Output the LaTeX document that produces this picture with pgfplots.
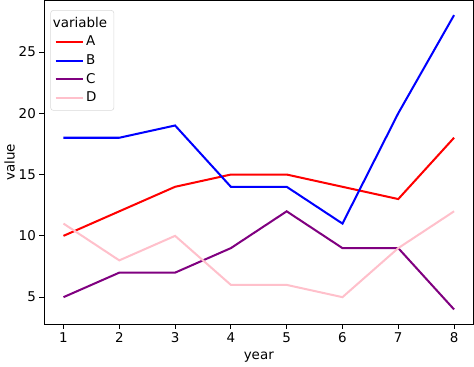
\documentclass[border=0pt]{standalone}
\usepackage{pgfplots}
\pgfplotsset{compat=1.18}
\usepackage{fontspec}
\setmainfont{DejaVu Sans}
\definecolor{cpurple}{HTML}{800080}
\definecolor{cpink}{HTML}{FFC0CB}
\begin{document}
\begin{tikzpicture}
\begin{axis}[
  scale only axis,
  width=319.5pt, height=240.75pt,
  xmin=0.65, xmax=8.35, ymin=2.8, ymax=29.2,
  xtick={1,...,8}, ytick={5,10,15,20,25},
  tick align=outside, tick pos=left,
  major tick length=3.5pt,
  every tick/.style={black, line width=0.6pt},
  axis line style={line width=0.6pt},
  /pgf/number format/assume math mode=true,
  tick label style={font=\fontsize{10}{12}\selectfont},
  xticklabel style={yshift=1pt},
  yticklabel style={xshift=1pt},
  label style={font=\fontsize{10}{12}\selectfont},
  xlabel={year}, ylabel={value},
  xlabel style={yshift=0pt},
  ylabel style={yshift=-4pt},
  legend style={at={(0.015,0.97)}, anchor=north west, draw=black!15, rounded corners=2pt,
    font=\fontsize{10}{12}\selectfont, row sep=1pt, inner sep=3pt},
  legend cell align=left,
  legend image code/.code={\draw[#1] (0cm,0cm) -- (0.7cm,0cm);},
]
\addlegendimage{empty legend}
\addlegendentry{\hspace{-0.87cm}variable}
\addplot[red, line width=1.5pt] coordinates {(1,10)(2,12)(3,14)(4,15)(5,15)(6,14)(7,13)(8,18)};
\addlegendentry{A}
\addplot[blue, line width=1.5pt] coordinates {(1,18)(2,18)(3,19)(4,14)(5,14)(6,11)(7,20)(8,28)};
\addlegendentry{B}
\addplot[cpurple, line width=1.5pt] coordinates {(1,5)(2,7)(3,7)(4,9)(5,12)(6,9)(7,9)(8,4)};
\addlegendentry{C}
\addplot[cpink, line width=1.5pt] coordinates {(1,11)(2,8)(3,10)(4,6)(5,6)(6,5)(7,9)(8,12)};
\addlegendentry{D}
\end{axis}
\end{tikzpicture}
\end{document}
